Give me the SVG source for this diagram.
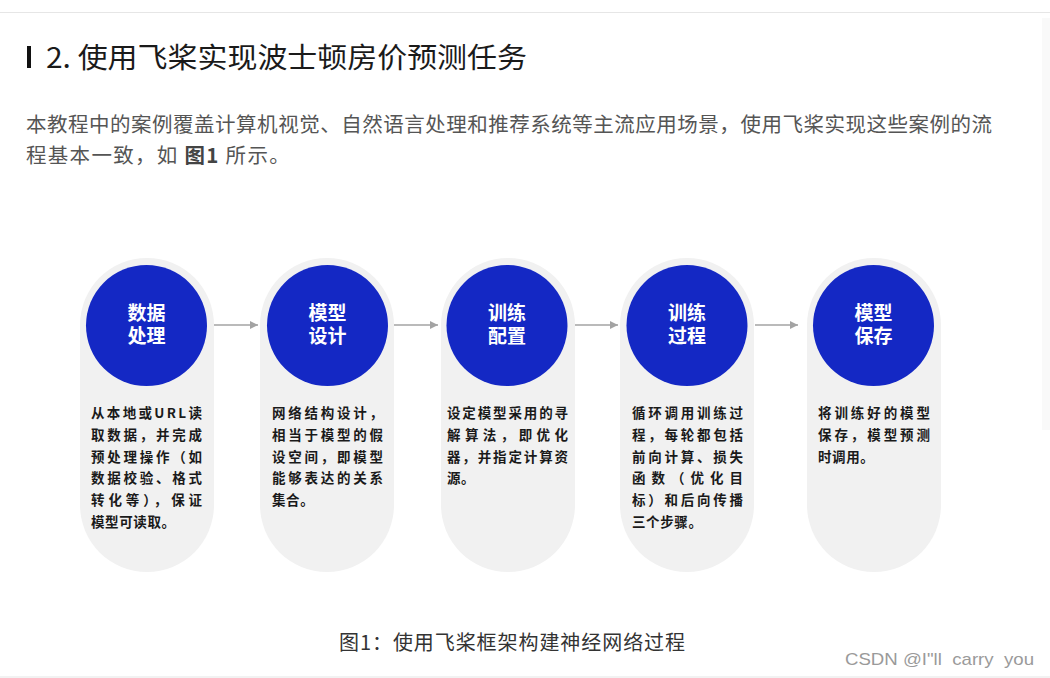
<svg xmlns="http://www.w3.org/2000/svg" width="1050" height="678" viewBox="0 0 1050 678">
<defs>
<style>
.cjk{font-family:"Noto Sans CJK SC","Liberation Sans",sans-serif}
.pill{fill:#f1f1f1}
.circ{fill:#1428c4}
.ct{font-family:"Noto Sans CJK SC",sans-serif;font-size:19px;font-weight:700;fill:#fff;text-anchor:middle}
.dt{font-family:"Noto Sans CJK SC",sans-serif;font-size:13.5px;font-weight:700;fill:#1a1a1a}
.dl{letter-spacing:0.6px}
.conn{stroke:#a3a3a3;stroke-width:1.3;fill:none}
</style>
<marker id="ah" viewBox="0 0 10 10" refX="10" refY="5" markerWidth="8" markerHeight="8" markerUnits="userSpaceOnUse" orient="auto">
<path d="M0,0 L10,5 L0,10 z" fill="#a3a3a3"/>
</marker>
</defs>
<rect width="1050" height="678" fill="#ffffff"/>
<line x1="0" y1="12.5" x2="1050" y2="12.5" stroke="#e6e6e6" stroke-width="1.2"/>
<rect x="1042" y="18" width="8" height="412" fill="#f9f9f9"/>
<line x1="0" y1="677" x2="1050" y2="677" stroke="#e6e6e6" stroke-width="1.2"/>

<g id="heading">
<rect x="27" y="46" width="4" height="22" fill="#111"/>
<text x="46" y="68" class="cjk" font-size="28.5" fill="#1a1a1a" textLength="481" lengthAdjust="spacingAndGlyphs">2. 使用飞桨实现波士顿房价预测任务</text>
</g>
<g id="paragraph" class="cjk" font-size="20.5" fill="#555">
<text x="26" y="132" textLength="966" lengthAdjust="spacing">本教程中的案例覆盖计算机视觉、自然语言处理和推荐系统等主流应用场景，使用飞桨实现这些案例的流</text>
<text x="26" y="163" letter-spacing="1.3">程基本一致，如 <tspan font-weight="700" fill="#444">图1</tspan> 所示。</text>
</g>

<g id="connectors">
<line class="conn" x1="214" y1="325" x2="258" y2="325" marker-end="url(#ah)"/>
<line class="conn" x1="394" y1="325" x2="438" y2="325" marker-end="url(#ah)"/>
<line class="conn" x1="575" y1="325" x2="618" y2="325" marker-end="url(#ah)"/>
<line class="conn" x1="755" y1="325" x2="798" y2="325" marker-end="url(#ah)"/>
</g>

<g id="node1">
<rect class="pill" x="80" y="258" width="134" height="314" rx="67"/>
<circle class="circ" cx="146.5" cy="325.5" r="60.5"/>
<text class="ct" x="146.5" y="320">数据<tspan x="146.5" y="343">处理</tspan></text>
<text class="dt" x="91" y="418" textLength="111" lengthAdjust="spacing">从本地或URL读</text>
<text class="dt" x="91" y="440" textLength="111" lengthAdjust="spacing">取数据，并完成</text>
<text class="dt" x="91" y="461.5" textLength="111" lengthAdjust="spacing">预处理操作（如</text>
<text class="dt" x="91" y="483" textLength="111" lengthAdjust="spacing">数据校验、格式</text>
<text class="dt" x="91" y="505" textLength="111" lengthAdjust="spacing">转化等），保证</text>
<text class="dt dl" x="91" y="527">模型可读取。</text>
</g>

<g id="node2">
<rect class="pill" x="260" y="258" width="134" height="314" rx="67"/>
<circle class="circ" cx="327.5" cy="325.5" r="60.5"/>
<text class="ct" x="327.5" y="320">模型<tspan x="327.5" y="343">设计</tspan></text>
<text class="dt" x="272" y="418" textLength="111" lengthAdjust="spacing">网络结构设计，</text>
<text class="dt" x="272" y="440" textLength="111" lengthAdjust="spacing">相当于模型的假</text>
<text class="dt" x="272" y="461.5" textLength="111" lengthAdjust="spacing">设空间，即模型</text>
<text class="dt" x="272" y="483" textLength="111" lengthAdjust="spacing">能够表达的关系</text>
<text class="dt dl" x="272" y="505">集合。</text>
</g>

<g id="node3">
<rect class="pill" x="441" y="258" width="134" height="314" rx="67"/>
<circle class="circ" cx="507" cy="325.5" r="60.5"/>
<text class="ct" x="507" y="320">训练<tspan x="507" y="343">配置</tspan></text>
<text class="dt" x="447" y="418" textLength="121" lengthAdjust="spacing">设定模型采用的寻</text>
<text class="dt" x="447" y="440" textLength="121" lengthAdjust="spacing">解算法，即优化</text>
<text class="dt" x="447" y="461.5" textLength="121" lengthAdjust="spacing">器，并指定计算资</text>
<text class="dt dl" x="447" y="483">源。</text>
</g>

<g id="node4">
<rect class="pill" x="620" y="258" width="134" height="314" rx="67"/>
<circle class="circ" cx="687" cy="325.5" r="60.5"/>
<text class="ct" x="687" y="320">训练<tspan x="687" y="343">过程</tspan></text>
<text class="dt" x="632" y="418" textLength="111" lengthAdjust="spacing">循环调用训练过</text>
<text class="dt" x="632" y="440" textLength="111" lengthAdjust="spacing">程，每轮都包括</text>
<text class="dt" x="632" y="461.5" textLength="111" lengthAdjust="spacing">前向计算、损失</text>
<text class="dt" x="632" y="483" textLength="111" lengthAdjust="spacing">函数（优化目</text>
<text class="dt" x="632" y="505" textLength="111" lengthAdjust="spacing">标）和后向传播</text>
<text class="dt dl" x="632" y="527">三个步骤。</text>
</g>

<g id="node5">
<rect class="pill" x="807" y="258" width="134" height="314" rx="67"/>
<circle class="circ" cx="873.5" cy="325.5" r="60.5"/>
<text class="ct" x="873.5" y="320">模型<tspan x="873.5" y="343">保存</tspan></text>
<text class="dt" x="818" y="418" textLength="112" lengthAdjust="spacing">将训练好的模型</text>
<text class="dt" x="818" y="440" textLength="112" lengthAdjust="spacing">保存，模型预测</text>
<text class="dt dl" x="818" y="461.5">时调用。</text>
</g>

<g id="caption">
<text x="339" y="650" class="cjk" font-size="20" fill="#333" textLength="346" lengthAdjust="spacing">图1：使用飞桨框架构建神经网络过程</text>
<text x="845" y="665" font-family="Liberation Sans,sans-serif" font-size="17" fill="#9a9a9a" textLength="189" lengthAdjust="spacingAndGlyphs" xml:space="preserve">CSDN @I"ll  carry  you</text>
</g>
</svg>
